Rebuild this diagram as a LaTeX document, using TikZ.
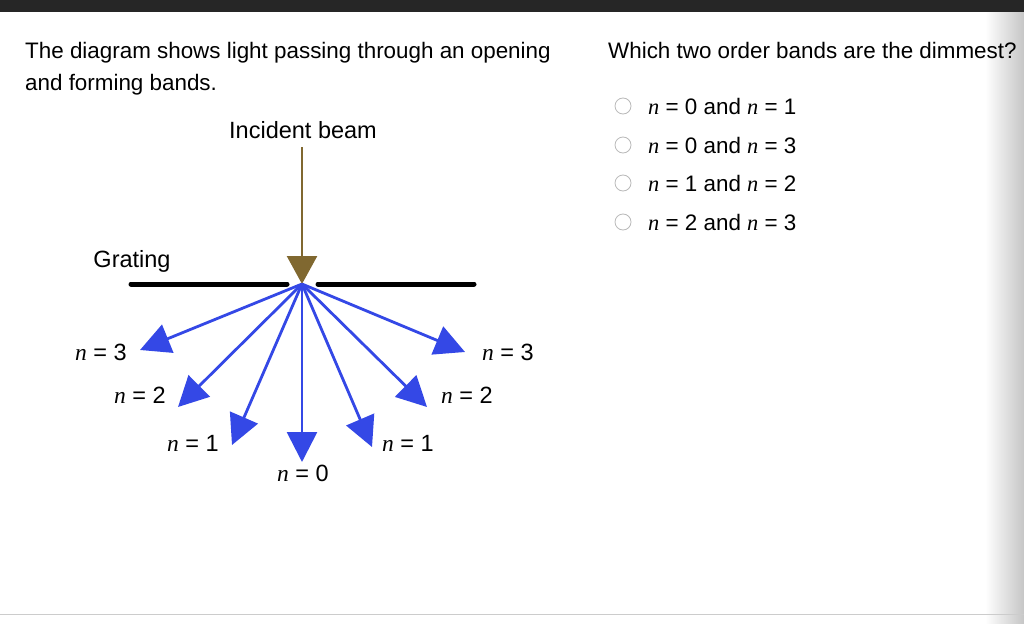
\documentclass[tikz,border=0pt]{standalone}
\usepackage{fontspec}
\setmainfont{Liberation Sans}
\usetikzlibrary{arrows.meta,shadings}
\definecolor{beam}{RGB}{128,104,48}
\definecolor{ray}{RGB}{52,72,230}
\tikzset{
  txt/.style={anchor=base west,inner sep=0pt,font=\fontsize{22.4}{26}\selectfont},
  lbl/.style={inner sep=0pt,font=\fontsize{23.5}{27}\selectfont},
  raya/.style={draw=ray,line width=2.8pt,-{Triangle[length=30pt,width=30pt]}},
  radio/.style={draw=gray!55,line width=0.8pt,fill=white,circle,minimum size=16pt,inner sep=0pt}
}
\newcommand{\nn}{\textit{\fontspec{Liberation Serif}n}}
\begin{document}
\begin{tikzpicture}[x=1pt,y=-1pt]
\useasboundingbox (0,0) rectangle (1024,623);
\fill[white] (0,0) rectangle (1024,623);
\shade[left color=white,right color=gray!45] (985,12) rectangle (1024,623);
\fill[black!85] (0,0) rectangle (1024,12);
\draw[gray!40,line width=1pt] (0,614) -- (1024,614);
\node[txt] (t1) at (25,59) {The diagram shows light passing through an opening};
\node[txt] (t2) at (25,91) {and forming bands.};
\node[txt] (q) at (608,59) {Which two order bands are the dimmest?};
\foreach \y/\a/\b [count=\i] in {106/0/1,145/0/3,183/1/2,222/2/3}{
  \node[radio] (r\i) at (623,\y) {};
  \node[txt,anchor=west] (o\i) at (648,\y) {\nn{} = \a{} and \nn{} = \b};
}
\node[lbl] (ib) at (303,130) {Incident beam};
\node[lbl] (gr) at (132,261) {Grating};
\coordinate (top) at (302,147);
\coordinate (s) at (302,284);
\draw[line width=5pt,line cap=round] (131,284) -- (287,284);
\draw[line width=5pt,line cap=round] (318,284) -- (474,284);
\draw[beam,line width=2.5pt,-{Triangle[length=28pt,width=30pt]}] (top) -- (s);
\coordinate (e3l) at (140,350);
\coordinate (e2l) at (178,407);
\coordinate (e1l) at (232,445);
\coordinate (e0) at (302,462);
\coordinate (e1r) at (372,447);
\coordinate (e2r) at (427,407);
\coordinate (e3r) at (465,352);
\foreach \e in {e3l,e2l,e1l,e0,e1r,e2r,e3r} \draw[raya] (s) -- (\e);
\node[lbl] (l3l) at (101,352) {\nn{} = 3};
\node[lbl] (l2l) at (140,395) {\nn{} = 2};
\node[lbl] (l1l) at (193,443) {\nn{} = 1};
\node[lbl] (l0) at (303,473) {\nn{} = 0};
\node[lbl] (l1r) at (408,443) {\nn{} = 1};
\node[lbl] (l2r) at (467,395) {\nn{} = 2};
\node[lbl] (l3r) at (508,352) {\nn{} = 3};
\end{tikzpicture}
\end{document}
